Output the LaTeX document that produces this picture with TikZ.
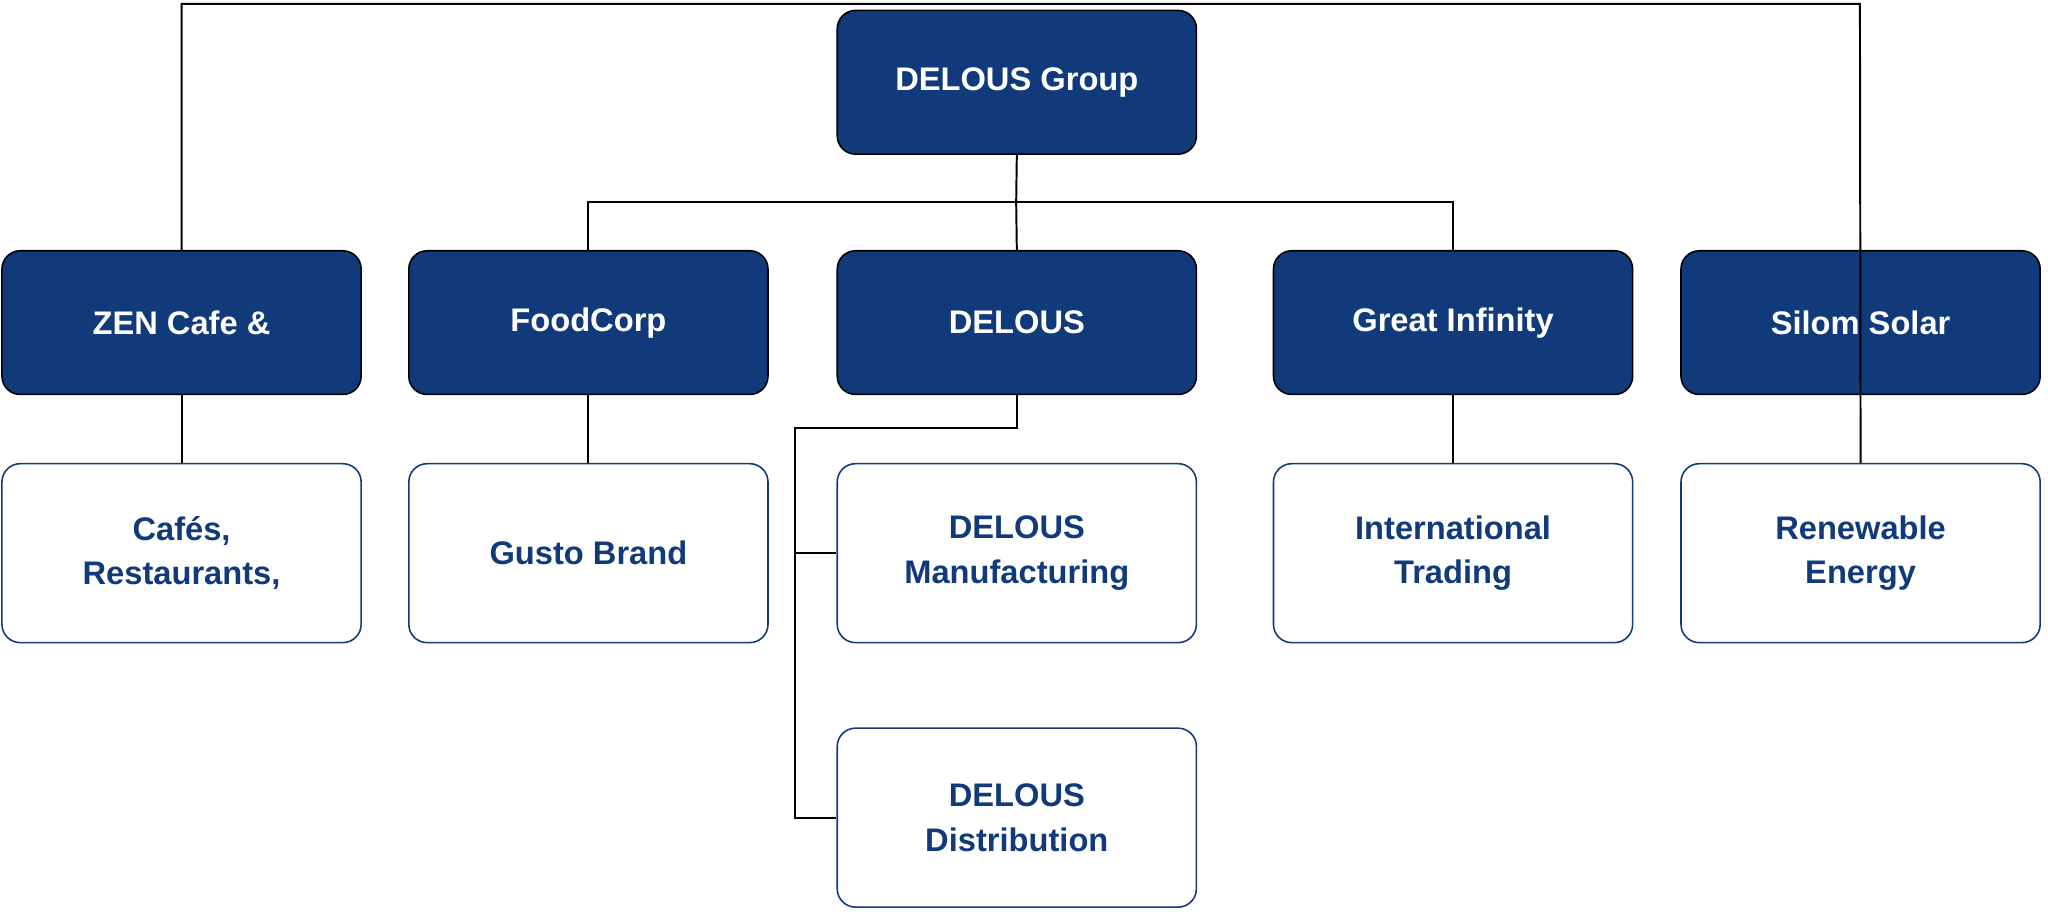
\documentclass[tikz,border=0pt]{standalone}
\usepackage{fontspec}
\setmainfont{Liberation Sans}
\definecolor{navy}{HTML}{113A7A}
\begin{document}
\begin{tikzpicture}[x=1pt,y=-1pt,
  dark/.style={draw=black,line width=1.2pt,fill=navy,rounded corners=14pt,minimum width=275pt,minimum height=110pt,text=white,font=\fontsize{25}{30}\selectfont\bfseries,align=center},
  light/.style={draw=navy,line width=1.2pt,fill=white,rounded corners=14pt,minimum width=275pt,minimum height=137pt,text=navy,font=\fontsize{25}{34}\selectfont\bfseries,align=center},
  conn/.style={draw=black,line width=1.5pt}]
\useasboundingbox (0,0) rectangle (1568,702);
\node[dark] (grp) at (778.5,63) {DELOUS Group};
\node[dark] (zen) at (139,247) {ZEN Cafe \&};
\node[dark] (food) at (450.5,247) {FoodCorp};
\node[dark] (del) at (778.5,247) {DELOUS};
\node[dark] (gi) at (1112.5,247) {Great Infinity};
\node[dark] (sil) at (1424.5,247) {Silom Solar};
\node[light] (cafe) at (139,423.5) {Cafés,\\Restaurants,};
\node[light] (gusto) at (450.5,423.5) {Gusto Brand};
\node[light] (man) at (778.5,423.5) {DELOUS\\Manufacturing};
\node[light] (it) at (1112.5,423.5) {International\\Trading};
\node[light] (re) at (1424.5,423.5) {Renewable\\Energy};
\node[light] (dist) at (778.5,626) {DELOUS\\Distribution};
\coordinate (j1) at (778,155);
\coordinate (j2) at (609,328);
\draw[conn] (grp.south) -- (j1);
\draw[conn] (food.north) |- (j1) -| (gi.north);
\draw[conn] (j1) -- (del.north);
\draw[conn] (zen.south) -- (cafe.north);
\draw[conn] (food.south) -- (gusto.north);
\draw[conn] (gi.south) -- (it.north);
\draw[conn] (del.south) |- (j2) |- (dist.west);
\draw[conn] (j2) |- (man.west);
\draw[conn] (zen.north) -- (139,3) -- (1424,3) -- (re.north);
\end{tikzpicture}
\end{document}
